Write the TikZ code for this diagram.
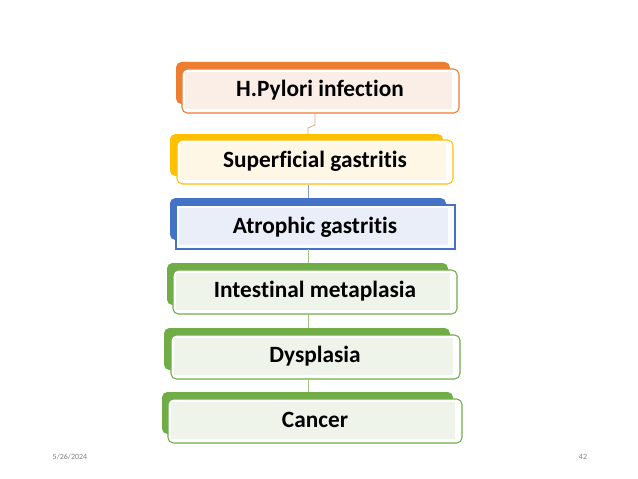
\documentclass[tikz,border=0pt]{standalone}
\usepackage{fontspec}
\setmainfont[Ligatures={NoCommon}]{Carlito}
\definecolor{cO}{HTML}{ED7D31}\definecolor{lO}{HTML}{FBEEE6}
\definecolor{cY}{HTML}{FFC000}\definecolor{lY}{HTML}{FFF7E6}
\definecolor{cB}{HTML}{4472C4}\definecolor{lB}{HTML}{E9EEF8}
\definecolor{cG}{HTML}{70AD47}\definecolor{lG}{HTML}{EEF4EA}
\tikzset{lbl/.style={font=\bfseries\fontsize{17.5}{20}\selectfont, text=black},
conn/.style={draw=gray!70, line width=0.6pt}}
\begin{document}
\begin{tikzpicture}[x=0.75pt,y=-0.75pt]
\useasboundingbox (0,0) rectangle (638,478);
\fill[white] (0,0) rectangle (638,478);
\foreach \bx/\by/\fx/\fy/\fw/\c/\l/\r in {
 176/62/182/69/277/cO/lO/4,
 170/134/177/140/276/cY/lY/4,
 170/198/176/205/279/cB/lB/0,
 167/263/173/270/284/cG/lG/4,
 164/328/171/335/289/cG/lG/4,
 162/392/168/399/294/cG/lG/4}{
 \fill[\c, rounded corners=4] (\bx,\by) rectangle ++(\fw-3,42);
 \filldraw[fill=white, draw=\c, line width=0.8pt, rounded corners=\r] (\fx,\fy) rectangle ++(\fw,44);
 \fill[\l] (\fx+3,\fy+3) rectangle ++(\fw-10,37);
}
\node[lbl] (n1) at (320,90) {H.Pylori infection};
\node[lbl] (n2) at (315,161) {Superficial gastritis};
\node[lbl] (n3) at (315,227) {Atrophic gastritis};
\node[lbl] (n4) at (315,291) {Intestinal metaplasia};
\node[lbl] (n5) at (315,356) {Dysplasia};
\node[lbl] (n6) at (315,420) {Cancer};
\coordinate (a1) at (315,113); \coordinate (a2) at (308,134);
\draw[conn, draw=cO!70] (a1) -- (315,125) -- (308,128) -- (a2);
\draw[conn, draw=cB!70] (308,185) -- (308,198);
\draw[conn, draw=cG!70] (308,249) -- (308,263);
\draw[conn, draw=cG!70] (308,313) -- (308,328);
\draw[conn, draw=cG!70] (308,378) -- (308,392);
\node[font=\fontsize{6}{7}\selectfont, text=gray] (d) at (70,457) {5/26/2024};
\node[font=\fontsize{6}{7}\selectfont, text=gray] (p) at (583,457) {42};
\end{tikzpicture}
\end{document}
